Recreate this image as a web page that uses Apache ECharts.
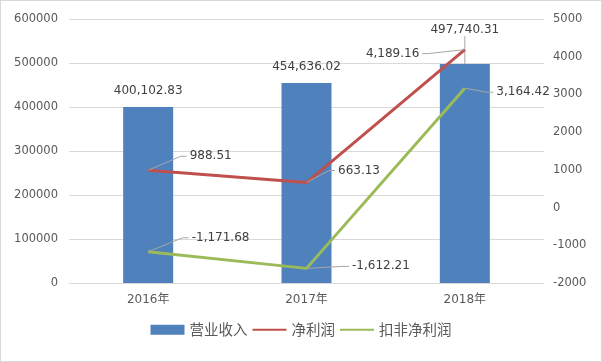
<!DOCTYPE html>
<html>
<head>
<meta charset="utf-8">
<script src="https://cdn.jsdelivr.net/npm/echarts@6/dist/echarts.min.js"></script>
<style>
html,body{margin:0;padding:0;background:#fff;}
#c{width:600px;height:360px;border:1px solid #d9d9d9;}
</style>
</head>
<body>
<div id="c"></div>
<script>
var categories = ['2016年', '2017年', '2018年'];
var revenue = [400102.83, 454636.02, 497740.31];
var netProfit = [988.51, 663.13, 4189.16];
var netProfitExcl = [-1171.68, -1612.21, 3164.42];
var seriesNames = ['营业收入', '净利润', '扣非净利润'];

var FONT = '"DejaVu Sans", "Noto Sans CJK SC", sans-serif';
function fmt(v) {
  return v.toLocaleString('en-US', {minimumFractionDigits: 2, maximumFractionDigits: 2});
}
function plain(v) { return String(v); }

// label offsets (styling only)
var netOffsets = [[33, -14, 'right'], [23, -12, 'right'], [-37, 4, 'left']];
var exclOffsets = [[35, -14, 'right'], [37, -2, 'right'], [23, 4, 'right']];
var barOffsets = [[0, 0, false], [0, 0, false], [0, -18, true]];

var chart = echarts.init(document.getElementById('c'));
var leader = {color: '#a6a6a6', width: 1};

function lineData(vals, offs) {
  return vals.map(function (v, i) {
    return {value: v, label: {position: offs[i][2]}};
  });
}
var lineLabel = {
  show: true, color: '#404040', fontSize: 12, distance: 5,
  padding: [0, 3, 0, 3], backgroundColor: 'rgba(255,255,255,0.01)',
  formatter: function (p) { return fmt(p.value); }
};

chart.setOption({
  animation: false,
  textStyle: {fontFamily: FONT},
  grid: {left: 68, right: 57, top: 18, bottom: 78},
  legend: {
    bottom: 19,
    left: 'center',
    itemGap: 4,
    itemWidth: 34,
    itemHeight: 10,
    textStyle: {fontSize: 14.5, color: '#595959', fontFamily: '"Noto Sans CJK SC", sans-serif'},
    data: [
      {name: seriesNames[0], icon: 'rect'},
      {name: seriesNames[1]},
      {name: seriesNames[2]}
    ]
  },
  xAxis: {
    type: 'category',
    data: categories,
    axisTick: {show: false},
    axisLine: {lineStyle: {color: '#d9d9d9'}},
    axisLabel: {color: '#595959', fontSize: 12, margin: 11}
  },
  yAxis: [
    {
      type: 'value', min: 0, max: 600000, interval: 100000,
      axisLine: {show: false}, axisTick: {show: false},
      splitLine: {lineStyle: {color: '#d9d9d9'}},
      axisLabel: {color: '#595959', fontSize: 11.5, margin: 11, formatter: plain}
    },
    {
      type: 'value', min: -2000, max: 5000, interval: 1000,
      axisLine: {show: false}, axisTick: {show: false},
      splitLine: {show: false},
      axisLabel: {color: '#595959', fontSize: 11.5, margin: 9, formatter: plain}
    }
  ],
  series: [
    {
      name: seriesNames[0],
      type: 'bar',
      barWidth: 50,
      itemStyle: {color: '#4f81bd'},
      data: revenue.map(function (v, i) {
        return {value: v, labelLine: {show: barOffsets[i][2], lineStyle: leader}};
      }),
      label: {
        show: true, position: 'top', distance: 10,
        color: '#404040', fontSize: 12,
        formatter: function (p) { return fmt(p.value); }
      },
      labelLayout: function (p) {
        var o = barOffsets[p.dataIndex];
        return {dx: o[0], dy: o[1]};
      },
      z: 1
    },
    {
      name: seriesNames[1],
      type: 'line',
      yAxisIndex: 1,
      symbol: 'circle',
      symbolSize: 1,
      showSymbol: true,
      color: '#c0504d',
      lineStyle: {color: '#c0504d', width: 3},
      itemStyle: {color: 'rgba(0,0,0,0)', borderWidth: 0},
      data: lineData(netProfit, netOffsets),
      label: lineLabel,
      labelLine: {show: true, lineStyle: leader, length2: 6},
      labelLayout: function (p) {
        var o = netOffsets[p.dataIndex];
        return {dx: o[0], dy: o[1]};
      },
      z: 3
    },
    {
      name: seriesNames[2],
      type: 'line',
      yAxisIndex: 1,
      symbol: 'circle',
      symbolSize: 1,
      showSymbol: true,
      color: '#9bbb59',
      lineStyle: {color: '#9bbb59', width: 3},
      itemStyle: {color: 'rgba(0,0,0,0)', borderWidth: 0},
      data: lineData(netProfitExcl, exclOffsets),
      label: lineLabel,
      labelLine: {show: true, lineStyle: leader, length2: 6},
      labelLayout: function (p) {
        var o = exclOffsets[p.dataIndex];
        return {dx: o[0], dy: o[1]};
      },
      z: 3
    }
  ]
});
</script>
</body>
</html>
